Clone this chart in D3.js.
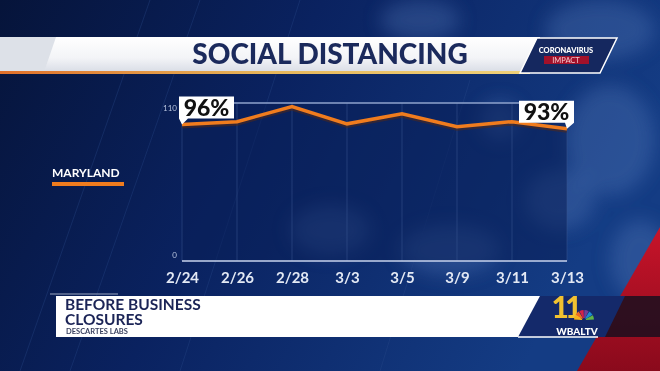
<!DOCTYPE html>
<html>
<head>
<meta charset="utf-8">
<script src="https://cdn.jsdelivr.net/npm/d3@7"></script>
<style>
  html, body { margin: 0; padding: 0; background: #0a1d4f; }
  svg { display: block; }
  text { font-family: "Lato", "Open Sans", sans-serif; }
</style>
</head>
<body>
<div id="chart"></div>
<script>
// data
const dates = ["2/24", "2/26", "2/28", "3/3", "3/5", "3/9", "3/11", "3/13"];
const maryland = [95, 97, 107.5, 95.5, 102.5, 93.5, 97, 92];
const yTicks = [0, 110];
const callouts = [
    { i: 0, text: "96%", side: "left" },
    { i: 7, text: "93%", side: "right" }
];

const W = 660, H = 371;

const svg = d3.select("#chart").append("svg")
    .attr("width", W)
    .attr("height", H);

const defs = svg.append("defs");

// background gradient, dark on the left, brighter blue on the right
let bg = defs.append("linearGradient").attr("id", "bg")
    .attr("x1", 0).attr("y1", 0).attr("x2", 1).attr("y2", 0.3);
bg.append("stop").attr("offset", 0).attr("stop-color", "#06143a");
bg.append("stop").attr("offset", 0.45).attr("stop-color", "#0a2260");
bg.append("stop").attr("offset", 1).attr("stop-color", "#143c84");

let blur = defs.append("filter").attr("id", "blur")
    .attr("x", "-50%").attr("y", "-50%").attr("width", "200%").attr("height", "200%");
blur.append("feGaussianBlur").attr("stdDeviation", 9);

let titleGrad = defs.append("linearGradient").attr("id", "titleGrad")
    .attr("x1", 0).attr("y1", 0).attr("x2", 0).attr("y2", 1);
titleGrad.append("stop").attr("offset", 0).attr("stop-color", "#ffffff");
titleGrad.append("stop").attr("offset", 0.6).attr("stop-color", "#f3f4f7");
titleGrad.append("stop").attr("offset", 1).attr("stop-color", "#d9dde6");

let stripe = defs.append("linearGradient").attr("id", "stripe")
    .attr("x1", 0).attr("y1", 0).attr("x2", 1).attr("y2", 0);
stripe.append("stop").attr("offset", 0).attr("stop-color", "#e0702a");
stripe.append("stop").attr("offset", 0.5).attr("stop-color", "#e6b65a");
stripe.append("stop").attr("offset", 1).attr("stop-color", "#f0d27a");

let redGrad = defs.append("linearGradient").attr("id", "redGrad")
    .attr("x1", 0).attr("y1", 0).attr("x2", 0).attr("y2", 1);
redGrad.append("stop").attr("offset", 0).attr("stop-color", "#c8142a");
redGrad.append("stop").attr("offset", 1).attr("stop-color", "#8a0a1c");

svg.append("rect").attr("width", W).attr("height", H).attr("fill", "url(#bg)");

// soft cloudy texture on the right (virus photos in the original)
const blobs = [
    [420, 20, 40, 20], [600, 30, 55, 30], [610, 140, 45, 55], [560, 200, 35, 30],
    [450, 250, 50, 25], [330, 230, 40, 25], [640, 260, 30, 40], [500, 120, 20, 20]
];
svg.append("g").attr("filter", "url(#blur)")
    .selectAll("ellipse").data(blobs).enter().append("ellipse")
    .attr("cx", d => d[0]).attr("cy", d => d[1])
    .attr("rx", d => d[2]).attr("ry", d => d[3])
    .attr("fill", "#5f86c2").attr("opacity", 0.3);

// faint diagonal streaks
svg.append("g").selectAll("line")
    .data([[20, 371, 150, 0], [180, 371, 300, 0], [70, 371, 200, 0], [380, 371, 470, 80]])
    .enter().append("line")
    .attr("x1", d => d[0]).attr("y1", d => d[1]).attr("x2", d => d[2]).attr("y2", d => d[3])
    .attr("stroke", "#2a4a8a").attr("stroke-width", 1).attr("opacity", 0.35);

// red wedge bottom right
svg.append("path")
    .attr("d", "M660,227 L577,371 L660,371 Z")
    .attr("fill", "url(#redGrad)");

// ----- title bar -----
svg.append("rect").attr("x", 0).attr("y", 37).attr("width", 540).attr("height", 35)
    .attr("fill", "url(#titleGrad)");
svg.append("path").attr("d", "M0,37 L56,37 L44,72 L0,72 Z").attr("fill", "#dde1e8");
svg.append("rect").attr("x", 0).attr("y", 71).attr("width", 530).attr("height", 3)
    .attr("fill", "url(#stripe)");

svg.append("text")
    .attr("x", 330).attr("y", 64)
    .attr("text-anchor", "middle")
    .attr("font-size", 28).attr("font-weight", 900)
    .attr("fill", "#1b2a5c")
    .text("SOCIAL DISTANCING");

// coronavirus impact badge
svg.append("path")
    .attr("d", "M537,38 L617,38 L600,73 L520,73 Z")
    .attr("fill", "#15285f").attr("stroke", "#ffffff").attr("stroke-width", 1.5);
svg.append("text")
    .attr("x", 566).attr("y", 53)
    .attr("text-anchor", "middle")
    .attr("font-size", 7.5).attr("font-weight", 900).attr("fill", "#ffffff")
    .text("CORONAVIRUS");
svg.append("rect").attr("x", 544).attr("y", 56).attr("width", 45).attr("height", 8)
    .attr("fill", "#a2112a");
svg.append("text")
    .attr("x", 566).attr("y", 63)
    .attr("text-anchor", "middle")
    .attr("font-size", 7.5).attr("fill", "#f4c9cf")
    .text("IMPACT");

// ----- chart -----
let x = d3.scalePoint().domain(dates).range([182, 567]);
let y = d3.scaleLinear().domain([0, 110]).range([261, 103]);

// darker plot panel
svg.append("rect")
    .attr("x", x(dates[0])).attr("y", y(110))
    .attr("width", x(dates[dates.length - 1]) - x(dates[0]))
    .attr("height", y(0) - y(110))
    .attr("fill", "#0a1f58").attr("opacity", 0.55);

// vertical grid lines
svg.append("g").selectAll("line").data(dates).enter().append("line")
    .attr("x1", d => x(d)).attr("x2", d => x(d))
    .attr("y1", y(110)).attr("y2", y(0))
    .attr("stroke", "#3a5691").attr("stroke-width", 1).attr("opacity", 0.5);

// horizontal lines at the ticks
svg.append("g").selectAll("line").data(yTicks).enter().append("line")
    .attr("x1", x(dates[0])).attr("x2", x(dates[dates.length - 1]))
    .attr("y1", d => y(d)).attr("y2", d => y(d))
    .attr("stroke", d => d === 0 ? "#c8d4ee" : "#8fa3cc")
    .attr("stroke-width", 1.5);

// tick values: the 110 sits just under its line, the 0 just above
svg.append("g").selectAll("text").data(yTicks).enter().append("text")
    .attr("x", 177).attr("y", d => d === 0 ? y(d) - 3 : y(d) + 8)
    .attr("text-anchor", "end")
    .attr("font-size", 8).attr("fill", "#b6c3dd")
    .text(d => d);

// x axis labels
let xAxis = d3.axisBottom(x).tickSize(0).tickPadding(0);
let gx = svg.append("g").attr("transform", "translate(0," + 272 + ")").call(xAxis);
gx.select(".domain").remove();
gx.selectAll("text")
    .attr("dy", "0.71em")
    .attr("font-family", "Lato, sans-serif")
    .attr("font-size", 15).attr("font-weight", 700)
    .attr("fill", "#e3e9f4");

// the line
let line = d3.line()
    .x((d, i) => x(dates[i]))
    .y(d => y(d));

svg.append("path")
    .datum(maryland)
    .attr("d", line)
    .attr("fill", "none")
    .attr("stroke", "#5a2a10").attr("stroke-width", 5).attr("opacity", 0.5)
    .attr("transform", "translate(0,1.5)");

svg.append("path")
    .datum(maryland)
    .attr("d", line)
    .attr("fill", "none")
    .attr("stroke", "#f07c1e")
    .attr("stroke-width", 3.5)
    .attr("stroke-linejoin", "miter");

// value callouts
callouts.forEach(function (c) {
    let px = x(dates[c.i]), py = y(maryland[c.i]);
    let w = 55, h = 22;
    let g = svg.append("g");
    if (c.side === "left") {
        let bx = px - 3, by = py - 6 - h;
        g.append("path")
            .attr("d", "M" + bx + "," + by + " h" + w + " v" + h + " H" + (bx + 9) +
                " L" + px + "," + py + " L" + bx + "," + (by + h) + " Z")
            .attr("fill", "#ffffff");
        g.append("text").attr("x", bx + w / 2).attr("y", by + h - 3)
            .attr("text-anchor", "middle")
            .attr("font-size", 23).attr("font-weight", 900).attr("fill", "#111111")
            .text(c.text);
    } else {
        let bx = px + 7 - w, by = py - 6 - h;
        g.append("path")
            .attr("d", "M" + bx + "," + by + " h" + w + " v" + h +
                " L" + px + "," + py + " L" + (bx + w - 9) + "," + (by + h) + " H" + bx + " Z")
            .attr("fill", "#ffffff");
        g.append("text").attr("x", bx + w / 2).attr("y", by + h - 3)
            .attr("text-anchor", "middle")
            .attr("font-size", 23).attr("font-weight", 900).attr("fill", "#111111")
            .text(c.text);
    }
});

// legend
svg.append("text")
    .attr("x", 52).attr("y", 177)
    .attr("font-size", 12).attr("font-weight", 700).attr("fill", "#ffffff")
    .text("MARYLAND");
svg.append("rect").attr("x", 52).attr("y", 182).attr("width", 72).attr("height", 4)
    .attr("fill", "#f07c1e");

// ----- lower third -----
svg.append("line").attr("x1", 50).attr("x2", 118).attr("y1", 294).attr("y2", 294)
    .attr("stroke", "#9aa6c0").attr("stroke-width", 1);
svg.append("rect").attr("x", 56).attr("y", 296).attr("width", 500).attr("height", 41)
    .attr("fill", "#ffffff");

// dark band across the right side
svg.append("rect").attr("x", 540).attr("y", 296).attr("width", 120).attr("height", 41)
    .attr("fill", "#1a0f1e").attr("opacity", 0.85);

svg.append("path")
    .attr("d", "M540,296 L625,296 L605,337 L518,337 Z")
    .attr("fill", "#14296a");
svg.append("line").attr("x1", 518).attr("x2", 598).attr("y1", 337).attr("y2", 337)
    .attr("stroke", "#ffffff").attr("stroke-width", 1.5);

// station logo
svg.append("text")
    .attr("x", 565).attr("y", 318)
    .attr("text-anchor", "middle")
    .attr("font-size", 30).attr("font-weight", 900).attr("fill", "#f2c230")
    .attr("letter-spacing", -4)
    .text("11");
const peacock = ["#f6b21a", "#ef6a22", "#d3224a", "#6f3e98", "#1d8ad0", "#5fb547"];
svg.append("g").selectAll("path").data(peacock).enter().append("path")
    .attr("d", function (d, i) {
        let a0 = -Math.PI / 2 + i * Math.PI / 6;
        return d3.arc()({ innerRadius: 2, outerRadius: 10, startAngle: a0 + 0.04, endAngle: a0 + Math.PI / 6 - 0.04 });
    })
    .attr("transform", "translate(584,320)")
    .attr("fill", d => d);
svg.append("text")
    .attr("x", 577).attr("y", 335)
    .attr("text-anchor", "middle")
    .attr("font-size", 10).attr("font-weight", 900).attr("fill", "#ffffff")
    .text("WBALTV");

svg.append("text")
    .attr("x", 65).attr("y", 310)
    .attr("font-size", 15.5).attr("font-weight", 700).attr("fill", "#1b2456")
    .text("BEFORE BUSINESS");
svg.append("text")
    .attr("x", 65).attr("y", 325)
    .attr("font-size", 15.5).attr("font-weight", 700).attr("fill", "#1b2456")
    .text("CLOSURES");
svg.append("text")
    .attr("x", 66).attr("y", 334)
    .attr("font-size", 7.5).attr("font-weight", 700).attr("fill", "#3b4260")
    .text("DESCARTES LABS");
</script>
</body>
</html>
